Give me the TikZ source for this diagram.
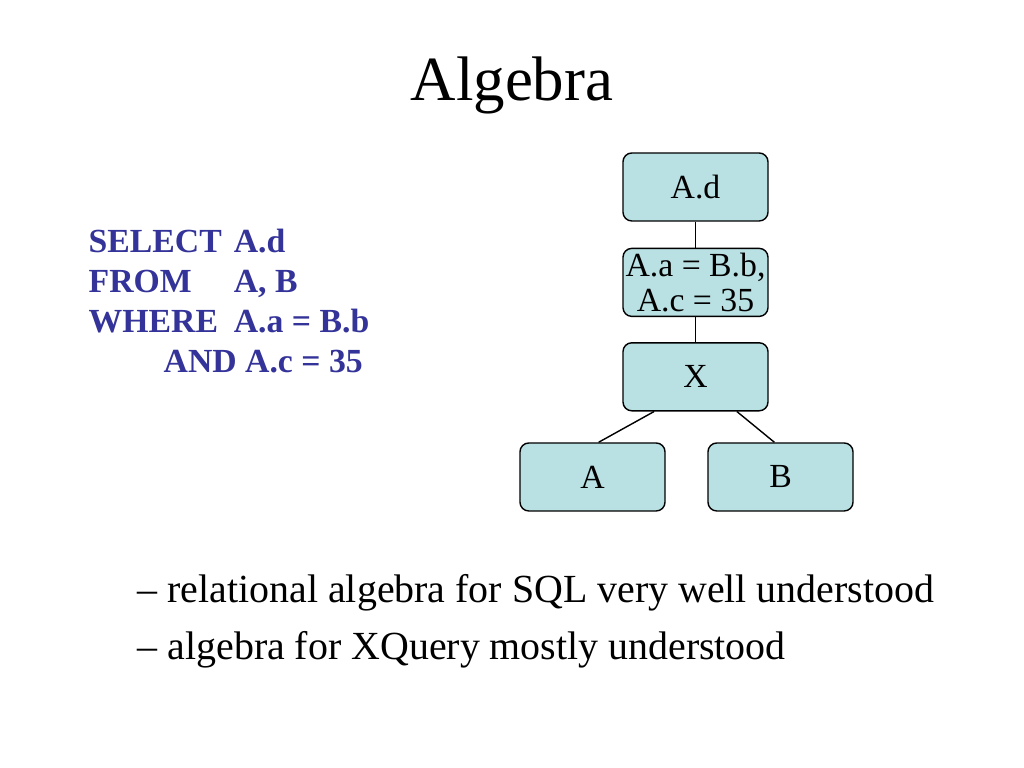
\documentclass[tikz,border=0pt]{standalone}
\usepackage{fontspec}
\setmainfont{Liberation Serif}
\usetikzlibrary{positioning}
\definecolor{boxfill}{HTML}{B9E0E3}
\definecolor{sqlblue}{HTML}{333399}

\begin{document}
\begin{tikzpicture}[
    box/.style={rectangle, draw, rounded corners=2.5pt, fill=boxfill, minimum width=1.45cm, minimum height=0.68cm, align=center, inner sep=0pt, font=\fontsize{9.6}{10}\selectfont},
    link/.style={thin}
]
\useasboundingbox (0,0) rectangle (10.24,7.68);

% title
\node[font=\fontsize{17.9}{22}\selectfont] (title) at (5.12,6.83) {Algebra};

% query plan
\node[box] (proj) at (6.955,5.81) {A.d};
\node[box, below=0.26cm of proj] (sel) {A.a = B.b,\\A.c = 35};
\node[box, below=0.25cm of sel] (join) {X};
\node[box] (rela) at (5.925,2.91) {A};
\node[box] (relb) at (7.805,2.91) {B};

\draw[link] (proj) -- (sel);
\draw[link] (sel) -- (join);
\draw[link] (join.-140) -- (rela.80);
\draw[link] (join.-40) -- (relb.100);

% SQL query
\node[anchor=north west, text=sqlblue, inner sep=0pt, font=\bfseries\fontsize{9.6}{11.4}\selectfont] (query) at (0.88,5.44) {%
  \begin{tabular}{@{}l@{\hspace{0.12cm}}l@{}}
  SELECT & A.d\\
  FROM & A, B\\
  WHERE & A.a = B.b\\
  \multicolumn{2}{@{}l@{}}{\hspace{0.75cm}AND A.c = 35}
  \end{tabular}};

% remarks
\node[anchor=base west, inner sep=0pt, font=\fontsize{11.35}{14}\selectfont] (rem1) at (1.37,1.65) {-- relational algebra for SQL very well understood};
\node[anchor=base west, inner sep=0pt, font=\fontsize{11.35}{14}\selectfont] (rem2) at (1.37,1.08) {-- algebra for XQuery mostly understood};
\end{tikzpicture}
\end{document}
